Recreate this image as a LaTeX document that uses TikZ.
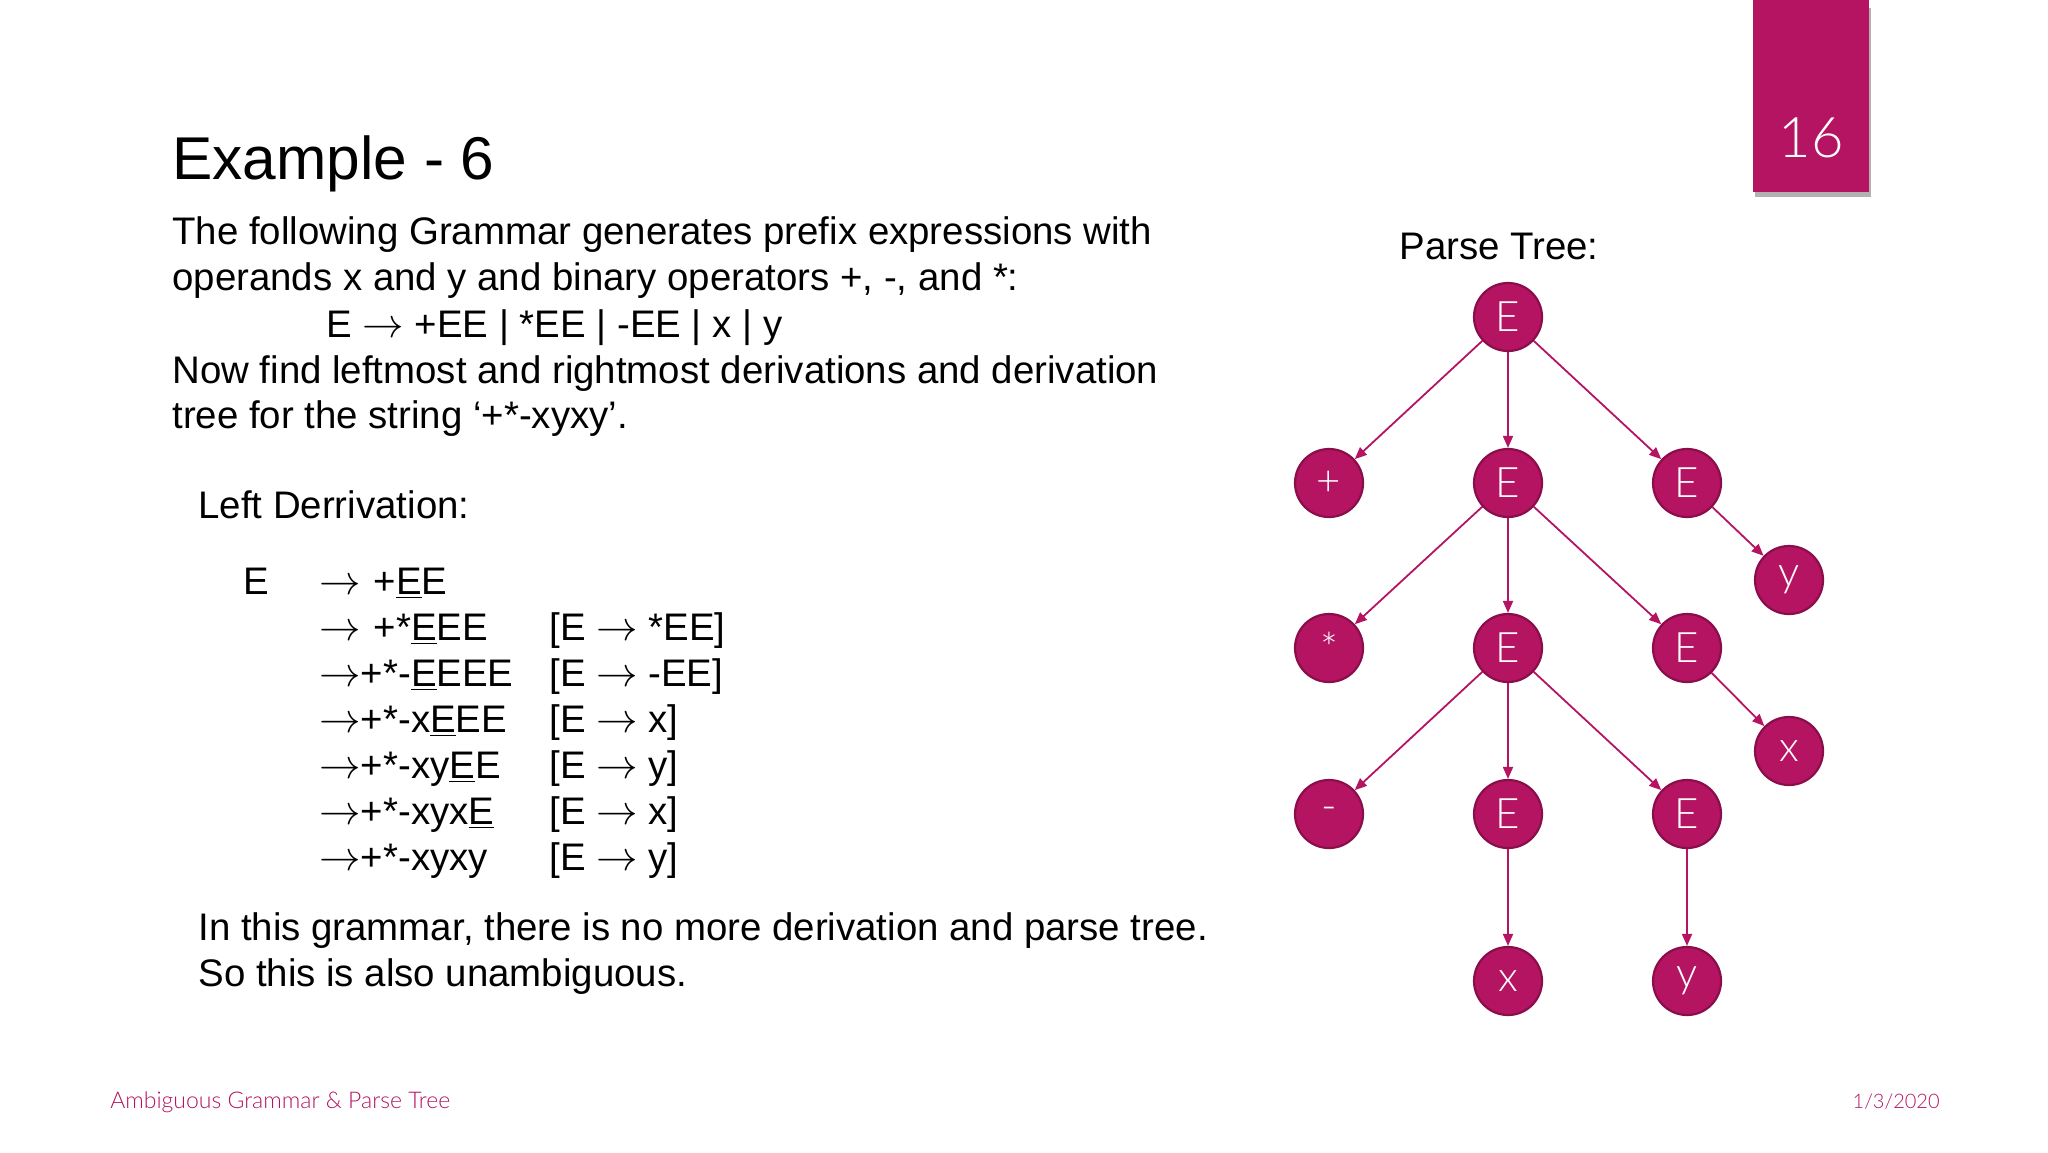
\documentclass[tikz,border=0pt]{standalone}
\usepackage{fontspec}
\setmainfont{Liberation Sans}
\newfontfamily\thinfont{Lato Light}
\usetikzlibrary{matrix,arrows.meta}
\definecolor{berry}{RGB}{180,20,98}
\definecolor{berrydark}{RGB}{138,14,74}
\tikzset{
body/.style={anchor=base west, inner sep=0pt, font=\fontsize{19.2}{23}\selectfont},
treenode/.style={circle, fill=berry, draw=berrydark, line width=1.1pt,
  minimum size=34pt, inner sep=0pt, text=white,
  font=\thinfont\fontsize{21}{21}\selectfont},
edge/.style={draw=berry, line width=0.9pt, -{Triangle[length=6pt,width=5pt]}},
table/.style={
  matrix of nodes,
  row sep=0pt,
  column sep=0pt,
  inner sep=0pt,
  nodes={anchor=base west, inner sep=0pt, align=left,
    text height=16pt, text depth=7pt, font=\fontsize{19.2}{23}\selectfont},
  nodes in empty cells
},
column 1/.style={nodes={text width=38pt}},
column 2/.style={nodes={text width=115pt}}
}
\begin{document}
\begin{tikzpicture}[x=0.5pt,y=-0.5pt]
\useasboundingbox (0,0) rectangle (2048,1152);
\fill[white] (0,0) rectangle (2048,1152);
% slide number tab
\fill[black!30] (1755,8) rectangle (1871,197);
\fill[berry] (1753,0) rectangle (1869,192);
\node[anchor=base, inner sep=0pt, text=white, font=\thinfont\fontsize{28}{28}\selectfont] (num) at (1811,157) {16};
% the text
\node[anchor=base west, inner sep=0pt, font=\fontsize{30.2}{36}\selectfont] (title) at (172,179) {Example - 6};
\node[body] (l1) at (172,244) {The following Grammar generates prefix expressions with};
\node[body] (l2) at (172,290) {operands x and y and binary operators +, -, and *:};
\node[body] (l3) at (326,337) {E $\rightarrow$ +EE | *EE | -EE | x | y};
\node[body] (l4) at (172,383) {Now find leftmost and rightmost derivations and derivation};
\node[body] (l5) at (172,428) {tree for the string ‘+*-xyxy’.};
\node[body] (left) at (198,518) {Left Derrivation:};
\matrix (deriv) [table, anchor=north west] at (243,562) {
  E & $\rightarrow$ +\underline{E}E & {} \\
    & $\rightarrow$ +*\underline{E}EE & {[E $\rightarrow$ *EE]} \\
    & $\rightarrow$+*-\underline{E}EEE & {[E $\rightarrow$ -EE]} \\
    & $\rightarrow$+*-x\underline{E}EE & {[E $\rightarrow$ x]} \\
    & $\rightarrow$+*-xy\underline{E}E & {[E $\rightarrow$ y]} \\
    & $\rightarrow$+*-xyx\underline{E} & {[E $\rightarrow$ x]} \\
    & $\rightarrow$+*-xyxy & {[E $\rightarrow$ y]} \\
};
\node[body] (c1) at (198,940) {In this grammar, there is no more derivation and parse tree.};
\node[body] (c2) at (198,986) {So this is also unambiguous.};
\node[body] (pt) at (1399,259) {Parse Tree:};
% footer
\node[anchor=base west, inner sep=0pt, text=berry, font=\thinfont\fontsize{11.5}{14}\selectfont] (foot) at (110,1108) {Ambiguous Grammar \& Parse Tree};
\node[anchor=base east, inner sep=0pt, text=berry, font=\thinfont\fontsize{10}{14}\selectfont] (date) at (1940,1108) {1/3/2020};
% the parse tree
\node[treenode] (root) at (1508,317) {E};
\node[treenode] (plus) at (1329,483) {+};
\node[treenode] (e2) at (1508,483) {E};
\node[treenode] (e3) at (1687,483) {E};
\node[treenode] (ya) at (1789,580) {y};
\node[treenode] (star) at (1329,648) {*};
\node[treenode] (e4) at (1508,648) {E};
\node[treenode] (e5) at (1687,648) {E};
\node[treenode] (xa) at (1789,751) {x};
\node[treenode] (minus) at (1329,814) {-};
\node[treenode] (e6) at (1508,814) {E};
\node[treenode] (e7) at (1687,814) {E};
\node[treenode] (xb) at (1508,981) {x};
\node[treenode] (yb) at (1687,981) {y};
\foreach \a/\b in {root/plus,root/e2,root/e3,e3/ya,e2/star,e2/e4,e2/e5,e5/xa,e4/minus,e4/e6,e4/e7,e6/xb,e7/yb}
{
  \draw[edge] (\a) -- (\b);
}
\end{tikzpicture}
\end{document}
